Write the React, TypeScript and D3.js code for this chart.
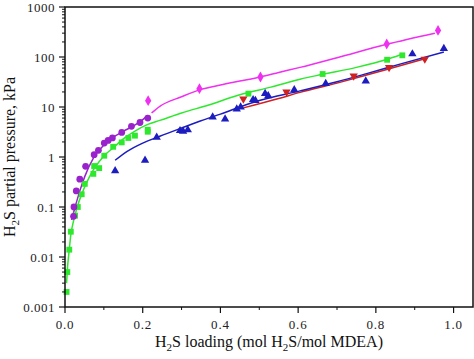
import React from "react";
import * as d3 from "d3";

type P = [number, number];

// measured points (H2S loading, partial pressure kPa)
const purplePts: P[] = [[0.022,0.065],[0.023,0.10],[0.029,0.21],[0.038,0.36],[0.053,0.65],[0.075,1.11],[0.086,1.36],[0.101,1.9],[0.111,2.15],[0.122,2.4],[0.146,3.1],[0.171,4.1],[0.193,4.9],[0.213,6.0]];
const magentaPts: P[] = [[0.214,13.4],[0.346,23.3],[0.503,39.8],[0.828,182],[0.96,340]];
const greenPts: P[] = [[0.004,0.002],[0.006,0.005],[0.011,0.014],[0.015,0.032],[0.026,0.067],[0.033,0.1],[0.043,0.18],[0.051,0.29],[0.073,0.46],[0.075,0.66],[0.088,0.6],[0.101,1.06],[0.124,1.6],[0.146,1.96],[0.163,2.4],[0.18,2.67],[0.213,3.5],[0.213,3.2],[0.472,18.5],[0.663,45.7],[0.829,88],[0.868,108]];
const bluePts: P[] = [[0.129,0.53],[0.206,0.86],[0.236,2.47],[0.296,3.36],[0.304,3.25],[0.316,3.5],[0.38,6.3],[0.412,5.75],[0.442,9.1],[0.452,10],[0.484,14],[0.49,13.5],[0.515,18.5],[0.523,16.8],[0.59,22],[0.671,29.5],[0.774,33],[0.894,115],[0.975,147]];
const redPts: P[] = [[0.459,14.5],[0.57,20],[0.743,42],[0.834,62],[0.926,91]];

// model curves
const purpleFit: P[] = [[0.017,0.055],[0.026,0.1],[0.039,0.22],[0.051,0.41],[0.073,0.95],[0.099,1.7],[0.125,2.5],[0.15,3.25],[0.176,4.2],[0.195,5.2],[0.213,6.8]];
const magentaFit: P[] = [[0.223,7.6],[0.244,10.3],[0.3,16],[0.346,22],[0.4,27.5],[0.45,33],[0.503,40],[0.55,49],[0.605,62],[0.7,97],[0.828,180],[0.952,300]];
const greenFit: P[] = [[0.004,0.003],[0.006,0.0055],[0.011,0.014],[0.015,0.028],[0.02,0.045],[0.026,0.07],[0.033,0.11],[0.043,0.18],[0.055,0.3],[0.073,0.55],[0.1,1.05],[0.125,1.55],[0.15,2.3],[0.18,3.3],[0.213,4.5],[0.244,5.4],[0.3,7.6],[0.37,11],[0.45,17.6],[0.53,25],[0.605,36],[0.663,45],[0.75,62],[0.829,90],[0.862,110]];
const blueFit: P[] = [[0.129,0.86],[0.16,1.3],[0.2,1.9],[0.244,2.6],[0.3,3.8],[0.35,5.3],[0.4,7.2],[0.45,10],[0.5,13.5],[0.605,21],[0.7,32],[0.774,46],[0.862,72],[0.975,126]];
const redFit: P[] = [[0.459,9.6],[0.55,14.8],[0.605,19.6],[0.7,30],[0.774,43],[0.862,67],[0.926,92]];

const xTicks = [0, 0.2, 0.4, 0.6, 0.8, 1.0];
const xMinor = [0.1, 0.3, 0.5, 0.7, 0.9];
const yTicks = [0.001, 0.01, 0.1, 1, 10, 100, 1000];
const yLabels = ["0.001", "0.01", "0.1", "1", "10", "100", "1000"];

const W = 474, H = 359;
const L = 65, R = 473, T = 7, B = 307;

export default function App() {
  const x = d3.scaleLinear().domain([0, 1.05]).range([L, R]);
  const y = d3.scaleLog().domain([0.001, 1000]).range([B, T]);
  const line = d3.line<P>().x(d => x(d[0])).y(d => y(d[1])).curve(d3.curveMonotoneX);

  const yMinor: number[] = [];
  for (let e = -3; e < 3; e++) for (let k = 2; k <= 9; k++) yMinor.push(k * Math.pow(10, e));

  const series = [
    { fit: greenFit, pts: greenPts, color: "#2ee82e", sym: d3.symbolSquare, size: 34, rot: 0 },
    { fit: purpleFit, pts: purplePts, color: "#9a22cc", sym: d3.symbolCircle, size: 36, rot: 0 },
    { fit: redFit, pts: redPts, color: "#d02020", sym: d3.symbolTriangle, size: 30, rot: 180 },
    { fit: blueFit, pts: bluePts, color: "#1c1cc0", sym: d3.symbolTriangle, size: 30, rot: 0 },
    { fit: magentaFit, pts: magentaPts, color: "#f030f0", sym: d3.symbolDiamond, size: 34, rot: 0 },
  ];

  const tickFont = "'Liberation Serif', 'Times New Roman', serif";
  const titleFont = "'Liberation Serif', 'Times New Roman', serif";

  return (
    <svg width={W} height={H} style={{ position: "absolute", left: 0, top: 0, background: "#fff" }}>
      {series.map((s, i) => (
        <path key={"l" + i} d={line(s.fit) || ""} fill="none" stroke={s.color} strokeWidth={1.5} />
      ))}
      {series.map((s, i) =>
        s.pts.map((p, j) => (
          <path key={"p" + i + "-" + j}
            d={d3.symbol().type(s.sym).size(s.size)() || ""}
            transform={`translate(${x(p[0])},${y(p[1])}) rotate(${s.rot})`}
            fill={s.color} />
        ))
      )}
      <rect x={L} y={T} width={R - L} height={B - T} fill="none" stroke="#111" strokeWidth={1.5} />
      {xTicks.map((t, i) => (
        <g key={"xt" + i}>
          <line x1={x(t)} x2={x(t)} y1={B} y2={B + 6} stroke="#111" strokeWidth={1.2} />
          <text x={x(t)} y={B + 22} textAnchor="middle" fontFamily={tickFont} fontSize={13} letterSpacing={0.8} fill="#222">{t.toFixed(1)}</text>
        </g>
      ))}
      {xMinor.map((t, i) => (
        <line key={"xm" + i} x1={x(t)} x2={x(t)} y1={B} y2={B + 3} stroke="#111" strokeWidth={1} />
      ))}
      {yTicks.map((t, i) => (
        <g key={"yt" + i}>
          <line x1={L - 6} x2={L} y1={y(t)} y2={y(t)} stroke="#111" strokeWidth={1.2} />
          <text x={L - 10} y={y(t) + 4.5} textAnchor="end" fontFamily={tickFont} fontSize={13} letterSpacing={0.5} fill="#222">{yLabels[i]}</text>
        </g>
      ))}
      {yMinor.map((t, i) => (
        <line key={"ym" + i} x1={L - 3} x2={L} y1={y(t)} y2={y(t)} stroke="#111" strokeWidth={1} />
      ))}
      <text x={(L + R) / 2} y={347} textAnchor="middle" fontFamily={titleFont} fontSize={16} fill="#111">
        H<tspan dy={4} fontSize={11}>2</tspan><tspan dy={-4}>S loading (mol H</tspan><tspan dy={4} fontSize={11}>2</tspan><tspan dy={-4}>S/mol MDEA)</tspan>
      </text>
      <text transform={`translate(15,${(T + B) / 2}) rotate(-90)`} textAnchor="middle" fontFamily={titleFont} fontSize={16} fill="#111">
        H<tspan dy={4} fontSize={11}>2</tspan><tspan dy={-4}>S partial pressure, kPa</tspan>
      </text>
    </svg>
  );
}
